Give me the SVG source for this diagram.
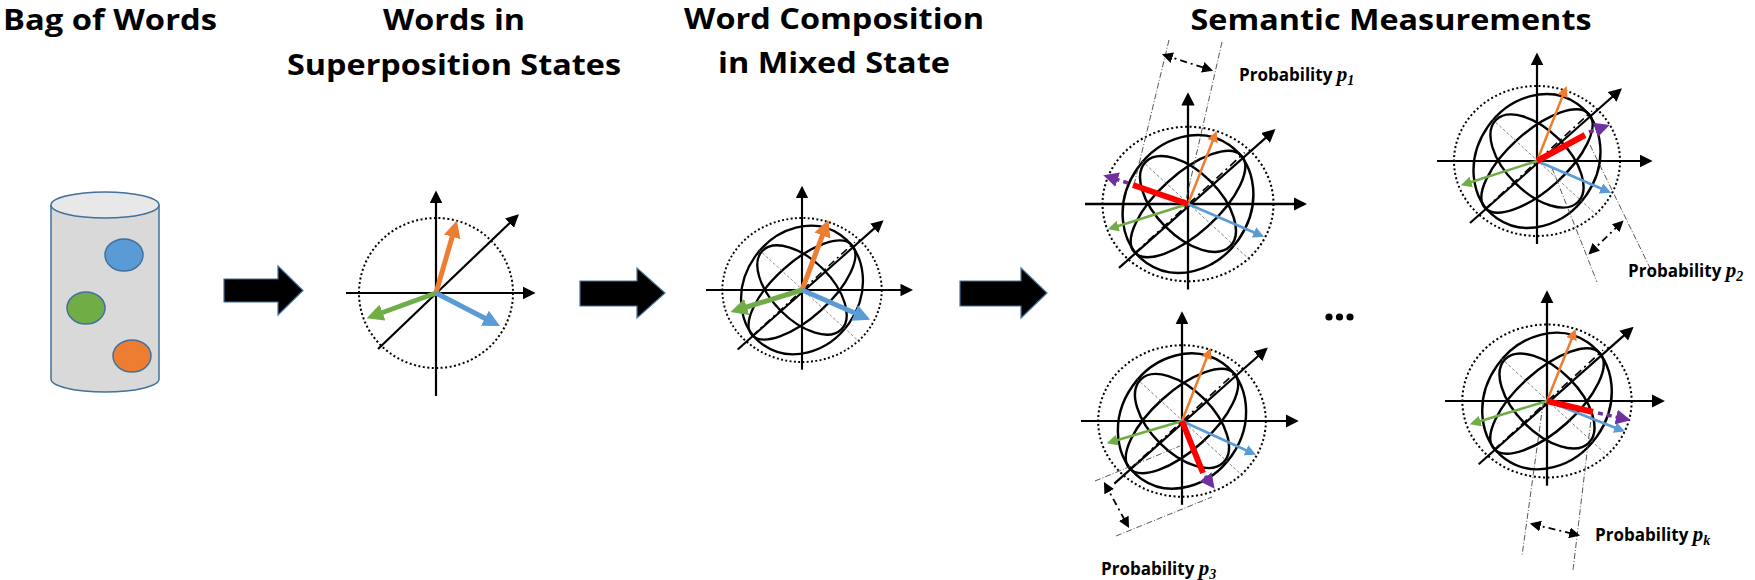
<svg xmlns="http://www.w3.org/2000/svg" xmlns:xlink="http://www.w3.org/1999/xlink" width="1755" height="580" viewBox="0 0 1755 580">
<style>
.title{font-family:"Open Sans","Liberation Sans",sans-serif;font-weight:700;font-size:29px;fill:#000}
.prob{font-family:"Open Sans","Liberation Sans",sans-serif;font-weight:700;font-size:17px;fill:#000}
.math{font-family:"Liberation Serif",serif;font-style:italic;font-weight:700;font-size:21px}
.sub{font-family:"Liberation Serif",serif;font-style:italic;font-weight:700;font-size:14px}
.ax{stroke:#000;stroke-width:2.2;fill:none}
.dot{stroke:#000;stroke-width:2;fill:none;stroke-dasharray:2 2.5}
.el{stroke:#000;stroke-width:2.4;fill:none}
.thin{stroke:#666;stroke-width:0.8;fill:none;stroke-dasharray:3 2}
.dd{stroke:#000;stroke-width:1.6;fill:none;stroke-dasharray:8 4 2 4}
.proj{stroke:#444;stroke-width:0.9;fill:none;stroke-dasharray:6 2 1 2}
.dim{stroke:#000;stroke-width:1.8;fill:none;stroke-dasharray:7 4 2 4}
.block{fill:#000;stroke:#41719c;stroke-width:1.2}
</style>
<defs>
<marker id="mk" viewBox="0 0 10 10" refX="8" refY="5" markerWidth="13" markerHeight="13" markerUnits="userSpaceOnUse" orient="auto-start-reverse"><path d="M0,0 L10,5 L0,10 z" fill="#000"/></marker>
<marker id="mkd" viewBox="0 0 10 10" refX="8" refY="5" markerWidth="11" markerHeight="11" markerUnits="userSpaceOnUse" orient="auto-start-reverse"><path d="M0,0 L10,5 L0,10 z" fill="#000"/></marker>
<marker id="oB" viewBox="0 0 10 10" refX="6" refY="5" markerWidth="17" markerHeight="17" markerUnits="userSpaceOnUse" orient="auto"><path d="M0,0 L10,5 L0,10 z" fill="#ed7d31"/></marker>
<marker id="bB" viewBox="0 0 10 10" refX="6" refY="5" markerWidth="17" markerHeight="17" markerUnits="userSpaceOnUse" orient="auto"><path d="M0,0 L10,5 L0,10 z" fill="#5b9bd5"/></marker>
<marker id="gB" viewBox="0 0 10 10" refX="6" refY="5" markerWidth="17" markerHeight="17" markerUnits="userSpaceOnUse" orient="auto"><path d="M0,0 L10,5 L0,10 z" fill="#70ad47"/></marker>
<marker id="oS" viewBox="0 0 10 10" refX="6" refY="5" markerWidth="11" markerHeight="11" markerUnits="userSpaceOnUse" orient="auto"><path d="M0,0 L10,5 L0,10 z" fill="#ed7d31"/></marker>
<marker id="bS" viewBox="0 0 10 10" refX="6" refY="5" markerWidth="11" markerHeight="11" markerUnits="userSpaceOnUse" orient="auto"><path d="M0,0 L10,5 L0,10 z" fill="#5b9bd5"/></marker>
<marker id="gS" viewBox="0 0 10 10" refX="6" refY="5" markerWidth="11" markerHeight="11" markerUnits="userSpaceOnUse" orient="auto"><path d="M0,0 L10,5 L0,10 z" fill="#70ad47"/></marker>
<marker id="pS" viewBox="0 0 10 10" refX="6" refY="5" markerWidth="15" markerHeight="15" markerUnits="userSpaceOnUse" orient="auto"><path d="M0,0 L10,5 L0,10 z" fill="#7030a0"/></marker>
<g id="axes">
<ellipse class="dot" cx="0" cy="0" rx="83" ry="75"/>
<line class="ax" x1="-100" y1="0" x2="113" y2="0" marker-end="url(#mk)"/>
<line class="ax" x1="0" y1="83" x2="0" y2="-106" marker-end="url(#mk)"/>
<line class="ax" x1="-67" y1="62" x2="83" y2="-71" marker-end="url(#mk)"/>
</g>
<g id="sph">
<use href="#axes"/>
<ellipse class="el" cx="0" cy="0" rx="70" ry="60" transform="rotate(-55)"/>
<ellipse class="el" cx="0" cy="0" rx="70" ry="29" transform="rotate(-42)"/>
<ellipse class="el" cx="0" cy="0" rx="58" ry="31" transform="rotate(45)"/>
<line class="thin" x1="-45" y1="-42" x2="62" y2="56"/>
<line class="dd" x1="-52" y1="48" x2="55" y2="-50"/>
</g>
</defs>

<g id="titles">
<text class="title" x="3" y="30" textLength="214" lengthAdjust="spacingAndGlyphs">Bag of Words</text>
<text class="title" x="454" y="30" text-anchor="middle" textLength="142" lengthAdjust="spacingAndGlyphs">Words in</text>
<text class="title" x="454" y="75" text-anchor="middle" textLength="334" lengthAdjust="spacingAndGlyphs">Superposition States</text>
<text class="title" x="834" y="29" text-anchor="middle" textLength="300" lengthAdjust="spacingAndGlyphs">Word Composition</text>
<text class="title" x="834" y="73" text-anchor="middle" textLength="232" lengthAdjust="spacingAndGlyphs">in Mixed State</text>
<text class="title" x="1391" y="30" text-anchor="middle" textLength="401" lengthAdjust="spacingAndGlyphs">Semantic Measurements</text>
</g>

<g id="bag">
<path d="M51,205 L51,379 A54,13 0 0 0 159,379 L159,205" fill="#d9d9d9" stroke="#41719c" stroke-width="1.5"/>
<ellipse cx="105" cy="205" rx="54" ry="13" fill="#e8e8e8" stroke="#41719c" stroke-width="1.5"/>
<ellipse cx="124" cy="255" rx="19" ry="16" fill="#5b9bd5" stroke="#41719c" stroke-width="1.5"/>
<ellipse cx="86" cy="308" rx="19" ry="16" fill="#70ad47" stroke="#41719c" stroke-width="1.5"/>
<ellipse cx="132" cy="356" rx="19" ry="16" fill="#ed7d31" stroke="#41719c" stroke-width="1.5"/>
</g>

<g id="connectors">
<path class="block" d="M224,279 L278,279 L278,266 L303,290.5 L278,315 L278,302 L224,302 z"/>
<path class="block" d="M580,281 L637,281 L637,268 L665,293 L637,318 L637,306 L580,306 z"/>
<path class="block" d="M960,281 L1021,281 L1021,268 L1047,293 L1021,318 L1021,306 L960,306 z"/>
</g>

<g id="superposition">
<g transform="translate(436,293)">
<ellipse class="dot" cx="0" cy="0" rx="77" ry="75"/>
<line class="ax" x1="-90" y1="0" x2="97" y2="0" marker-end="url(#mk)"/>
<line class="ax" x1="0" y1="103" x2="0" y2="-100" marker-end="url(#mk)"/>
<line class="ax" x1="-58" y1="56" x2="81" y2="-77" marker-end="url(#mk)"/>
<line x1="0" y1="0" x2="19" y2="-66" stroke="#ed7d31" stroke-width="5" marker-end="url(#oB)"/>
<line x1="0" y1="0" x2="-63" y2="23" stroke="#70ad47" stroke-width="5" marker-end="url(#gB)"/>
<line x1="0" y1="0" x2="58" y2="30" stroke="#5b9bd5" stroke-width="5" marker-end="url(#bB)"/>
</g>
</g>

<g id="mixed">
<use href="#sph" transform="translate(802,290) scale(0.96)"/>
<g transform="translate(802,290)">
<line x1="0" y1="0" x2="24" y2="-64" stroke="#ed7d31" stroke-width="5" marker-end="url(#oB)"/>
<line x1="0" y1="0" x2="-65" y2="20" stroke="#70ad47" stroke-width="5" marker-end="url(#gB)"/>
<line x1="0" y1="0" x2="62" y2="27" stroke="#5b9bd5" stroke-width="5" marker-end="url(#bB)"/>
</g>
</g>

<g id="m1">
<use href="#sph" transform="translate(1188,204) scale(1.03)"/>
<line class="proj" x1="1169" y1="40" x2="1134" y2="185"/>
<line class="proj" x1="1222" y1="42" x2="1186" y2="200"/>
<line class="dim" x1="1164" y1="55" x2="1211" y2="70" marker-start="url(#mkd)" marker-end="url(#mkd)"/>
<line x1="1188" y1="204" x2="1215" y2="135" stroke="#ed7d31" stroke-width="2.5" marker-end="url(#oS)"/>
<line x1="1188" y1="204" x2="1260" y2="235" stroke="#5b9bd5" stroke-width="2.5" marker-end="url(#bS)"/>
<line x1="1188" y1="204" x2="1112" y2="228" stroke="#70ad47" stroke-width="2.5" marker-end="url(#gS)"/>
<line x1="1188" y1="204" x2="1133" y2="185" stroke="#ff0000" stroke-width="6"/>
<line x1="1128" y1="183" x2="1109" y2="177" stroke="#7030a0" stroke-width="3.5" stroke-dasharray="5 4" marker-end="url(#pS)"/>
<text class="prob" x="1239" y="81">Probability <tspan class="math">p</tspan><tspan class="sub" dy="4">1</tspan></text>
</g>

<g id="m2">
<use href="#sph" transform="translate(1537,161)"/>
<line class="proj" x1="1552" y1="168" x2="1597" y2="282"/>
<line class="proj" x1="1590" y1="145" x2="1652" y2="272"/>
<line class="dim" x1="1590" y1="253" x2="1622" y2="222" marker-start="url(#mkd)" marker-end="url(#mkd)"/>
<line x1="1537" y1="161" x2="1565" y2="90" stroke="#ed7d31" stroke-width="2.5" marker-end="url(#oS)"/>
<line x1="1537" y1="161" x2="1607" y2="191" stroke="#5b9bd5" stroke-width="2.5" marker-end="url(#bS)"/>
<line x1="1537" y1="161" x2="1465" y2="184" stroke="#70ad47" stroke-width="2.5" marker-end="url(#gS)"/>
<line x1="1537" y1="161" x2="1585" y2="135" stroke="#ff0000" stroke-width="6"/>
<line x1="1589" y1="132" x2="1604" y2="127" stroke="#7030a0" stroke-width="3.5" stroke-dasharray="5 4" marker-end="url(#pS)"/>
<text class="prob" x="1628" y="277">Probability <tspan class="math">p</tspan><tspan class="sub" dy="4">2</tspan></text>
</g>

<g id="m3">
<use href="#sph" transform="translate(1182,421) scale(1.01)"/>
<line class="proj" x1="1095" y1="481" x2="1180" y2="446"/>
<line class="proj" x1="1116" y1="536" x2="1212" y2="497"/>
<line class="dim" x1="1105" y1="484" x2="1128" y2="526" marker-start="url(#mkd)" marker-end="url(#mkd)"/>
<line x1="1182" y1="421" x2="1209" y2="352" stroke="#ed7d31" stroke-width="2.5" marker-end="url(#oS)"/>
<line x1="1182" y1="421" x2="1252" y2="453" stroke="#5b9bd5" stroke-width="2.5" marker-end="url(#bS)"/>
<line x1="1182" y1="421" x2="1111" y2="442" stroke="#70ad47" stroke-width="2.5" marker-end="url(#gS)"/>
<line x1="1182" y1="421" x2="1203" y2="473" stroke="#ff0000" stroke-width="6"/>
<line x1="1205" y1="476" x2="1211" y2="484" stroke="#7030a0" stroke-width="3.5" stroke-dasharray="5 4" marker-end="url(#pS)"/>
<text class="prob" x="1101" y="575">Probability <tspan class="math">p</tspan><tspan class="sub" dy="4">3</tspan></text>
</g>

<g id="m4">
<use href="#sph" transform="translate(1547,401) scale(1.02)"/>
<line class="proj" x1="1543" y1="404" x2="1522" y2="556"/>
<line class="proj" x1="1592" y1="411" x2="1573" y2="570"/>
<line class="dim" x1="1532" y1="524" x2="1578" y2="535" marker-start="url(#mkd)" marker-end="url(#mkd)"/>
<line x1="1547" y1="401" x2="1574" y2="333" stroke="#ed7d31" stroke-width="2.5" marker-end="url(#oS)"/>
<line x1="1547" y1="401" x2="1621" y2="430" stroke="#5b9bd5" stroke-width="2.5" marker-end="url(#bS)"/>
<line x1="1547" y1="401" x2="1474" y2="423" stroke="#70ad47" stroke-width="2.5" marker-end="url(#gS)"/>
<line x1="1547" y1="401" x2="1593" y2="412" stroke="#ff0000" stroke-width="6"/>
<line x1="1598" y1="413" x2="1625" y2="419" stroke="#7030a0" stroke-width="3.5" stroke-dasharray="5 4" marker-end="url(#pS)"/>
<text class="prob" x="1595" y="541">Probability <tspan class="math">p</tspan><tspan class="sub" dy="4">k</tspan></text>
</g>

<g id="ellipsis">
<circle cx="1329" cy="317" r="3.6"/>
<circle cx="1339.5" cy="317" r="3.6"/>
<circle cx="1350" cy="317" r="3.6"/>
</g>
</svg>
